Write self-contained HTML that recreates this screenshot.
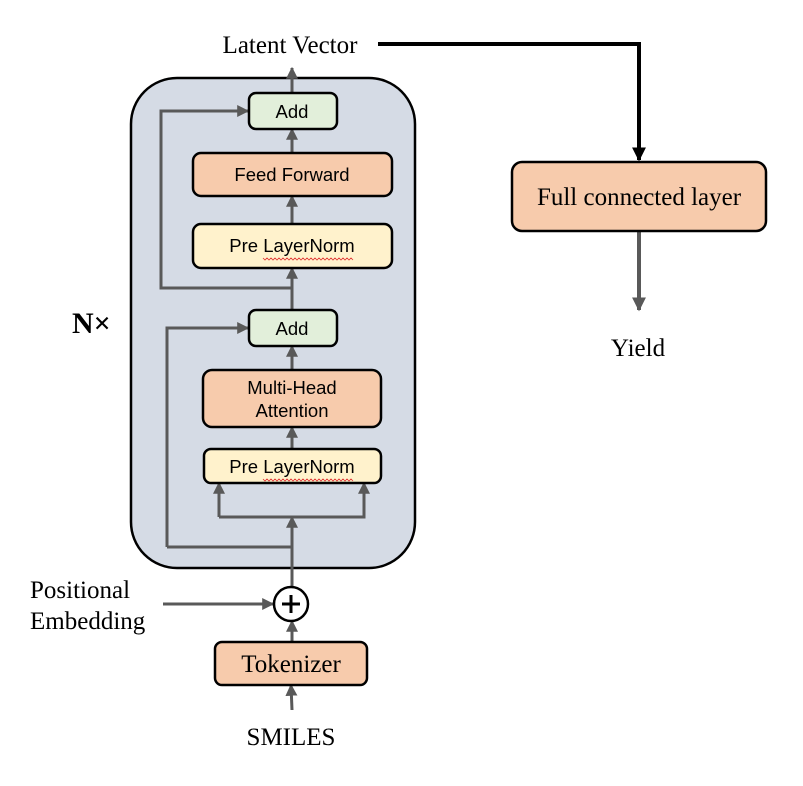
<!DOCTYPE html>
<html><head><meta charset="utf-8"><style>html,body{margin:0;padding:0;background:#fff}svg{display:block}</style></head>
<body>
<svg width="803" height="786" viewBox="0 0 803 786" xmlns="http://www.w3.org/2000/svg">
<defs>
<marker id="ag" viewBox="0 0 10 10" refX="9" refY="5" markerWidth="12" markerHeight="12" orient="auto" markerUnits="userSpaceOnUse"><path d="M0,0 L10,5 L0,10 z" fill="#595959"/></marker>
<marker id="ay" viewBox="0 0 10 10" refX="9" refY="5" markerWidth="14" markerHeight="14" orient="auto" markerUnits="userSpaceOnUse"><path d="M0,0 L10,5 L0,10 z" fill="#595959"/></marker>
<marker id="ab" viewBox="0 0 10 10" refX="9" refY="5" markerWidth="14" markerHeight="14" orient="auto" markerUnits="userSpaceOnUse"><path d="M0,0 L10,5 L0,10 z" fill="#000"/></marker>
</defs>
<rect x="131" y="78" width="284" height="490" rx="46" fill="#d5dbe5" stroke="#000" stroke-width="2.5"/>
<g stroke="#595959" stroke-width="3" fill="none">
<line x1="292" y1="93" x2="292" y2="68" marker-end="url(#ag)"/>
<line x1="292" y1="153" x2="292" y2="129" marker-end="url(#ag)"/>
<line x1="292" y1="224" x2="292" y2="196" marker-end="url(#ag)"/>
<line x1="292" y1="310" x2="292" y2="268" marker-end="url(#ag)"/>
<polyline points="292,288 161,288 161,111 248,111" marker-end="url(#ag)"/>
<line x1="292" y1="370" x2="292" y2="346" marker-end="url(#ag)"/>
<line x1="292" y1="449" x2="292" y2="427" marker-end="url(#ag)"/>
<polyline points="167,547 167,328 248,328" marker-end="url(#ag)"/>
<line x1="292" y1="587" x2="292" y2="517" marker-end="url(#ag)"/>
<polyline points="219,517 219,483" marker-end="url(#ag)"/>
<polyline points="219,517 364,517 364,483" marker-end="url(#ag)"/>
<line x1="167" y1="547" x2="292" y2="547"/>
<line x1="163" y1="604" x2="273" y2="604" marker-end="url(#ag)"/>
<line x1="292" y1="642" x2="292" y2="621" marker-end="url(#ag)"/>
<line x1="292" y1="710" x2="291" y2="685" marker-end="url(#ag)"/>
<line x1="639" y1="231" x2="639" y2="310" stroke-width="4" marker-end="url(#ay)"/>
</g>
<polyline points="378,44 639,44 639,160" fill="none" stroke="#000" stroke-width="4" marker-end="url(#ab)"/>
<g stroke="#000" stroke-width="2.5">
<rect x="249" y="93" width="88" height="36" rx="7" fill="#e2efda"/>
<rect x="193" y="153" width="199" height="43" rx="8" fill="#f7cbac"/>
<rect x="193" y="224" width="199" height="44" rx="8" fill="#fff2cc"/>
<rect x="249" y="310" width="88" height="36" rx="7" fill="#e2efda"/>
<rect x="203" y="370" width="178" height="57" rx="9" fill="#f7cbac"/>
<rect x="204" y="449" width="177" height="34" rx="7" fill="#fff2cc"/>
<rect x="215" y="642" width="152" height="43" rx="7" fill="#f7cbac"/>
<rect x="512" y="162" width="254" height="69" rx="10" fill="#f7cbac"/>
<circle cx="291" cy="604" r="17" fill="#fff"/>
</g>
<g stroke="#000" stroke-width="3"><line x1="282" y1="604" x2="300" y2="604"/><line x1="291" y1="595" x2="291" y2="613"/></g>
<g font-family="Liberation Sans, sans-serif" font-size="18.5" text-anchor="middle" fill="#000">
<text x="292" y="118">Add</text>
<text x="292" y="181">Feed Forward</text>
<text x="292" y="252">Pre LayerNorm</text>
<text x="292" y="335">Add</text>
<text x="292" y="394">Multi-Head</text>
<text x="292" y="417">Attention</text>
<text x="292" y="473">Pre LayerNorm</text>
</g>
<g stroke="#e03030" stroke-width="0.8" fill="none">
<path d="M263,258 l2,2 l2,-2 l2,2 l2,-2 l2,2 l2,-2 l2,2 l2,-2 l2,2 l2,-2 l2,2 l2,-2 l2,2 l2,-2 l2,2 l2,-2 l2,2 l2,-2 l2,2 l2,-2 l2,2 l2,-2 l2,2 l2,-2 l2,2 l2,-2 l2,2 l2,-2 l2,2 l2,-2 l2,2 l2,-2 l2,2 l2,-2 l2,2 l2,-2 l2,2 l2,-2 l2,2 l2,-2 l2,2 l2,-2 l2,2 l2,-2 l2,2"/>
<path d="M263,479 l2,2 l2,-2 l2,2 l2,-2 l2,2 l2,-2 l2,2 l2,-2 l2,2 l2,-2 l2,2 l2,-2 l2,2 l2,-2 l2,2 l2,-2 l2,2 l2,-2 l2,2 l2,-2 l2,2 l2,-2 l2,2 l2,-2 l2,2 l2,-2 l2,2 l2,-2 l2,2 l2,-2 l2,2 l2,-2 l2,2 l2,-2 l2,2 l2,-2 l2,2 l2,-2 l2,2 l2,-2 l2,2 l2,-2 l2,2 l2,-2 l2,2"/>
</g>
<g font-family="Liberation Serif, serif" fill="#000" font-size="25">
<text x="290" y="53" text-anchor="middle">Latent Vector</text>
<text x="639" y="205" text-anchor="middle">Full connected layer</text>
<text x="638" y="356" text-anchor="middle">Yield</text>
<text x="291" y="672" text-anchor="middle">Tokenizer</text>
<text x="291" y="745" text-anchor="middle">SMILES</text>
<text x="30" y="598">Positional</text>
<text x="30" y="629">Embedding</text>
<text x="72" y="333" font-size="30" font-weight="bold">N×</text>
</g>
</svg>
</body></html>
